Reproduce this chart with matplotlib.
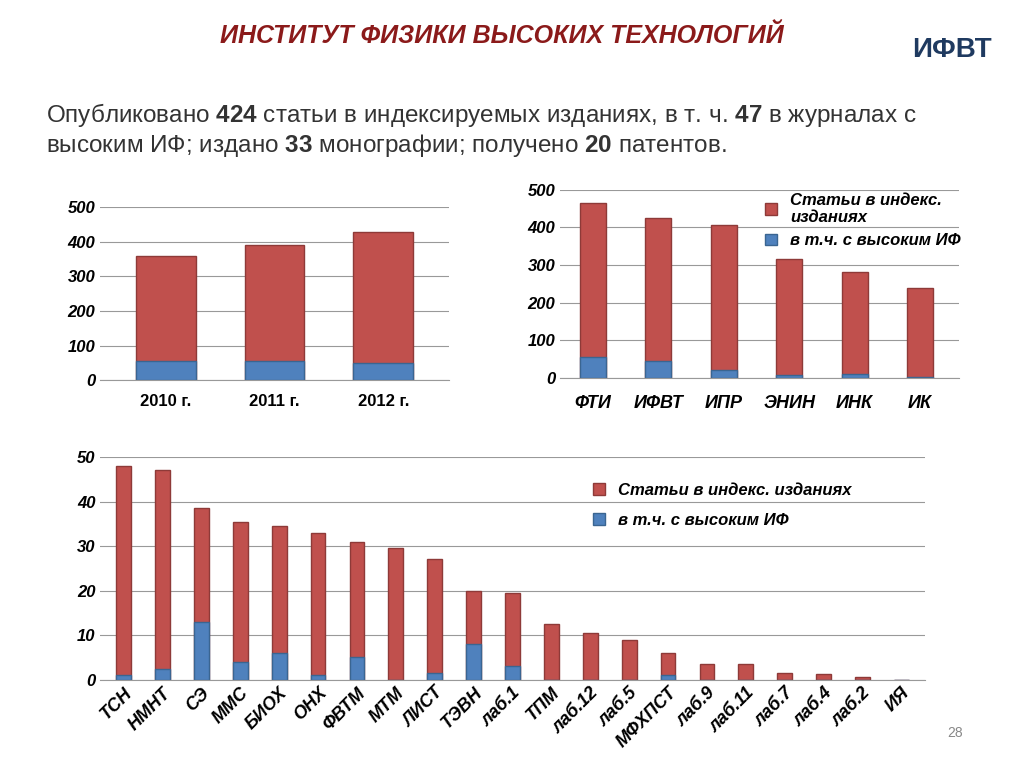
import matplotlib
matplotlib.use("Agg")
import matplotlib.pyplot as plt
import numpy as np

plt.rcParams['font.family'] = ['Liberation Sans', 'DejaVu Sans']
plt.rcParams['mathtext.fontset'] = 'custom'
plt.rcParams['mathtext.rm'] = 'Liberation Sans'
plt.rcParams['mathtext.bf'] = 'Liberation Sans:bold'
RED = '#C0504D'; BLUE = '#4F81BD'

years = ["2010 г.", "2011 г.", "2012 г."]
years_total = [360, 390, 430]
years_high = [55, 55, 50]

inst = ["ФТИ", "ИФВТ", "ИПР", "ЭНИН", "ИНК", "ИК"]
inst_total = [465, 425, 405, 315, 280, 240]
inst_high = [55, 45, 20, 8, 10, 2]

labs = ["ТСН", "НМНТ", "СЭ", "ММС", "БИОХ", "ОНХ", "ФВТМ", "МТМ", "ЛИСТ", "ТЭВН", "лаб.1",
        "ТПМ", "лаб.12", "лаб.5", "МФХПСТ", "лаб.9", "лаб.11", "лаб.7", "лаб.4", "лаб.2", "ИЯ"]
labs_total = [48, 47, 38.5, 35.5, 34.5, 33, 31, 29.5, 27, 20, 19.5, 12.5, 10.5, 9, 6, 3.5, 3.5, 1.5, 1.2, 0.5, 0]
labs_high = [1, 2.5, 13, 4, 6, 1, 5, 0, 1.5, 8, 3, 0, 0, 0, 1, 0, 0, 0, 0, 0, 0]

fig = plt.figure(figsize=(10.24, 7.68), dpi=100)
fig.patch.set_facecolor('white')

fig.text(0.49, 0.953, "ИНСТИТУТ ФИЗИКИ ВЫСОКИХ ТЕХНОЛОГИЙ", ha='center', va='center',
         fontsize=18, fontweight='bold', style='italic', color='#8B1A1A',
         family=['Liberation Sans Narrow', 'Liberation Sans'])
fig.text(0.93, 0.935, "ИФВТ", ha='center', va='center', fontsize=20, color='#1F3A60', fontweight='bold')
fig.text(0.045, 0.85, "Опубликовано $\\mathbf{424}$ статьи в индексируемых изданиях, в т. ч. $\\mathbf{47}$ в журналах с",
         fontsize=17.5, color='#333333', va='center')
fig.text(0.045, 0.81, "высоким ИФ; издано $\\mathbf{33}$ монографии; получено $\\mathbf{20}$ патентов.",
         fontsize=17.5, color='#333333', va='center')
fig.text(0.925, 0.04, "28", fontsize=10, color='#888888')

def style(ax, ymax, step):
    ax.set_ylim(0, ymax)
    ax.set_yticks(np.arange(0, ymax + 1, step))
    ax.yaxis.grid(True, color='#999999', lw=0.8)
    ax.set_axisbelow(True)
    for s in ['top', 'right', 'left']:
        ax.spines[s].set_visible(False)
    ax.spines['bottom'].set_color('#999999')
    ax.tick_params(length=0)
    for t in ax.get_yticklabels():
        t.set_fontweight('bold'); t.set_style('italic'); t.set_fontsize(12)

ax1 = fig.add_axes([0.098, 0.505, 0.34, 0.225])
x = np.arange(len(years))
ax1.bar(x, years_total, width=0.55, color=RED, edgecolor='#8E3A38')
ax1.bar(x, years_high, width=0.55, color=BLUE, edgecolor='#3A6591')
ax1.set_xticks(x, years, fontsize=12, fontweight='bold')
ax1.tick_params(axis='x', pad=10)
ax1.set_xlim(-0.6, 2.6)
style(ax1, 500, 100)

ax2 = fig.add_axes([0.547, 0.508, 0.39, 0.245])
x = np.arange(len(inst))
ax2.bar(x, inst_total, width=0.4, color=RED, edgecolor='#8E3A38', label="Статьи в индекс.\nизданиях")
ax2.bar(x, inst_high, width=0.4, color=BLUE, edgecolor='#3A6591', label="в т.ч. с высоким ИФ")
ax2.set_xticks(x, inst, fontsize=13, fontweight='bold', style='italic')
ax2.tick_params(axis='x', pad=12)
ax2.set_xlim(-0.5, 5.6)
style(ax2, 500, 100)
ax2.legend(loc='upper right', frameon=False, prop={'size': 12, 'weight': 'bold', 'style': 'italic'},
           handlelength=0.7, borderaxespad=0.0, bbox_to_anchor=(1.02, 1.02))

ax3 = fig.add_axes([0.098, 0.115, 0.805, 0.29])
x = np.arange(len(labs))
ax3.bar(x, labs_total, width=0.38, color=RED, edgecolor='#8E3A38', label="Статьи в индекс. изданиях")
ax3.bar(x, labs_high, width=0.38, color=BLUE, edgecolor='#3A6591', label="в т.ч. с высоким ИФ")
ax3.set_xticks(x, labs, fontsize=13, fontweight='bold', style='italic', rotation=45, ha='right',
               rotation_mode='anchor')
ax3.set_xlim(-0.6, 20.6)
style(ax3, 50, 10)
ax3.legend(loc='upper right', frameon=False, prop={'size': 12, 'weight': 'bold', 'style': 'italic'},
           handlelength=0.7, bbox_to_anchor=(0.93, 0.95), labelspacing=0.9)

fig.savefig("out.png", dpi=100)
